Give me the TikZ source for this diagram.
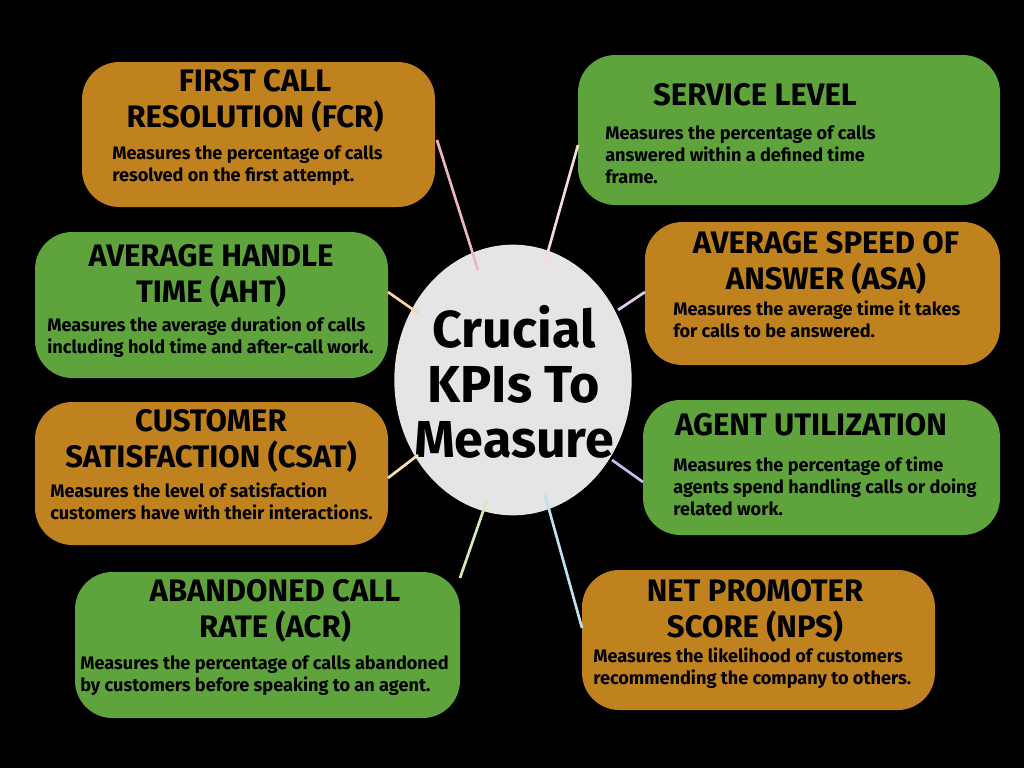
\documentclass[tikz,border=0pt]{standalone}
\usepackage{fontspec}
\setmainfont{Fira Sans}
\usetikzlibrary{shapes.geometric}
\definecolor{orng}{HTML}{C0811F}
\definecolor{grn}{HTML}{5EA33C}
\begin{document}
\begin{tikzpicture}[x=0.75pt,y=-0.75pt,
  kbox/.style={rounded corners=28pt,draw=none},
  ttl/.style={font=\fontsize{23.3}{27.5}\selectfont\bfseries,align=center,text=black,inner sep=0},
  bdy/.style={font=\fontsize{13.6}{16.5}\selectfont\bfseries,align=left,anchor=north west,text=black,inner sep=0},
  conn/.style={line width=2pt}]
\fill[black] (0,0) rectangle (1024,768);
\useasboundingbox (0,0) rectangle (1024,768);
% boxes
\fill[kbox,orng] (82,62) rectangle (435,207); \node (fcr) at (258,135) {};
\fill[kbox,grn] (578,55) rectangle (1000,205); \node (sl) at (789,130) {};
\fill[kbox,grn] (35,232) rectangle (388,378); \node (aht) at (211,305) {};
\fill[kbox,orng] (645,222) rectangle (1000,365); \node (asa) at (822,293) {};
\fill[kbox,orng] (35,402) rectangle (388,545); \node (csat) at (211,473) {};
\fill[kbox,grn] (643,400) rectangle (1000,535); \node (au) at (821,467) {};
\fill[kbox,grn] (75,572) rectangle (460,718); \node (acr) at (267,645) {};
\fill[kbox,orng] (582,570) rectangle (935,710); \node (nps) at (758,640) {};
% circle
\node[ellipse,fill=black!10,minimum width=178pt,minimum height=203pt,inner sep=0] (c) at (513,380) {};
\node[font=\fontsize{39}{41}\selectfont\bfseries,align=center,inner sep=0] (ct) at (514,382) {Crucial\\KPIs To\\Measure};
% connector ends
\coordinate (e1) at (437,140); \coordinate (f1) at (478,270);
\coordinate (e2) at (578,145); \coordinate (f2) at (545,262);
\coordinate (e3) at (388,292); \coordinate (f3) at (418,313);
\coordinate (e4) at (645,292); \coordinate (f4) at (618,310);
\coordinate (e5) at (388,478); \coordinate (f5) at (418,455);
\coordinate (e6) at (643,482); \coordinate (f6) at (612,460);
\coordinate (e7) at (460,578); \coordinate (f7) at (487,500);
\coordinate (e8) at (582,628); \coordinate (f8) at (545,495);
\draw[conn,color={rgb,255:red,240;green,180;blue,190}] (e1) -- (f1);
\draw[conn,color={rgb,255:red,250;green,215;blue,230}] (e2) -- (f2);
\draw[conn,color={rgb,255:red,250;green,210;blue,170}] (e3) -- (f3);
\draw[conn,color={rgb,255:red,225;green,200;blue,240}] (e4) -- (f4);
\draw[conn,color={rgb,255:red,250;green,230;blue,170}] (e5) -- (f5);
\draw[conn,color={rgb,255:red,190;green,190;blue,240}] (e6) -- (f6);
\draw[conn,color={rgb,255:red,210;green,235;blue,190}] (e7) -- (f7);
\draw[conn,color={rgb,255:red,190;green,225;blue,240}] (e8) -- (f8);
% titles
\node[ttl] (t1) at (255,101) {FIRST CALL\\RESOLUTION (FCR)};
\node[ttl] (t2) at (755,95) {SERVICE LEVEL};
\node[ttl] (t3) at (211,276) {AVERAGE HANDLE\\TIME (AHT)};
\node[ttl] (t4) at (826,263) {AVERAGE SPEED OF\\ANSWER (ASA)};
\node[ttl] (t5) at (211,441) {CUSTOMER\\SATISFACTION (CSAT)};
\node[ttl] (t6) at (811,425) {AGENT UTILIZATION};
\node[ttl] (t7) at (275,611) {ABANDONED CALL\\RATE (ACR)};
\node[ttl] (t8) at (755,611) {NET PROMOTER\\SCORE (NPS)};
% bodies
\node[bdy] (b1) at (112,145) {Measures the percentage of calls\\resolved on the first attempt.};
\node[bdy] (b2) at (605,125) {Measures the percentage of calls\\answered within a defined time\\frame.};
\node[bdy] (b3) at (47,317) {Measures the average duration of calls\\including hold time and after-call work.};
\node[bdy] (b4) at (673,301) {Measures the average time it takes\\for calls to be answered.};
\node[bdy] (b5) at (50,483) {Measures the level of satisfaction\\customers have with their interactions.};
\node[bdy] (b6) at (673,457) {Measures the percentage of time\\agents spend handling calls or doing\\related work.};
\node[bdy] (b7) at (80,655) {Measures the percentage of calls abandoned\\by customers before speaking to an agent.};
\node[bdy] (b8) at (593,648) {Measures the likelihood of customers\\recommending the company to others.};
\end{tikzpicture}
\end{document}
